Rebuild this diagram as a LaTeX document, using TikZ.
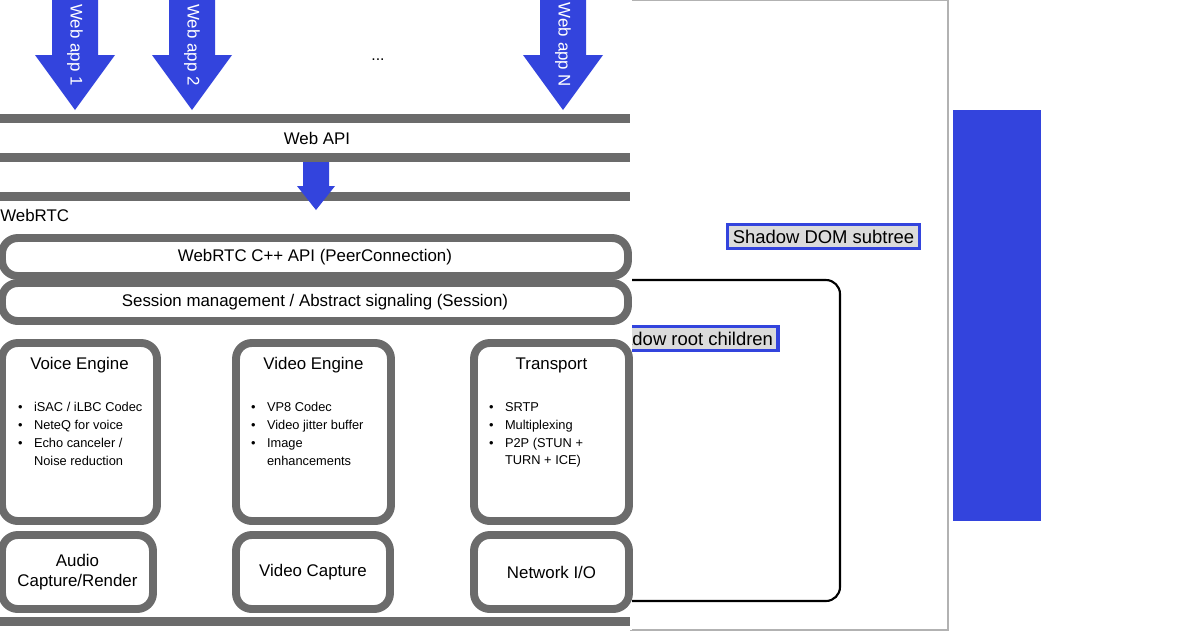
\documentclass[tikz,border=0pt]{standalone}
\usepackage{fontspec}
\setmainfont{Liberation Sans}
\usetikzlibrary{positioning}
\definecolor{barGray}{HTML}{6B6B6B}
\definecolor{appBlue}{HTML}{3344DD}
\tikzset{
  bar/.style = {fill=barGray, draw=none},
  block/.style = {draw=barGray, line width=4.5pt, rounded corners=9pt, fill=white, inner sep=0pt},
  title/.style = {font=\fontsize{9.6}{11}\selectfont, align=center},
  items/.style = {font=\fontsize{7.3}{10.2}\selectfont, align=left, anchor=north west},
  tag/.style = {draw=appBlue, line width=2pt, fill=black!14, font=\fontsize{10.5}{12}\selectfont, inner sep=3pt},
}
\newcommand{\webapp}[3]{% tip x, name, label
  \fill[appBlue] (#1-23,0) -- (#1+23,0) -- (#1+23,55) -- (#1+40,55) -- (#1,110) -- (#1-40,55) -- (#1-23,55) -- cycle;
  \node[rotate=-90, text=white, font=\fontsize{9.6}{11}\selectfont] (#2) at (#1,45) {#3};
}
\newcommand{\bl}{\makebox[9pt][l]{\textbullet}}
\begin{document}
\begin{tikzpicture}[x=0.02cm, y=-0.02cm]
\useasboundingbox (0,0) rectangle (1200,630);
\fill[white] (0,0) rectangle (1200,630);

% shadow DOM side
\draw[black!30, line width=0.6pt] (630,0) -- (948,0) -- (948,630) -- (630,630);
\fill[appBlue] (953,110) rectangle (1041,521);
\node[tag] (subtree) at (823.5,236.5) {Shadow DOM subtree};
\draw[black, line width=1.2pt, rounded corners=8pt] (560,280) rectangle (840,601);
\node[tag, anchor=east] (children) at (780,338.5) {Shadow root children};

% WebRTC stack
\fill[white] (0,0) rectangle (632,630);
\foreach \y in {114,153,192,617}
  \fill[bar] (0,\y) rectangle (630,\y+9);
\webapp{75}{app1}{Web app 1}
\webapp{192}{app2}{Web app 2}
\webapp{563}{appN}{Web app N}
\node (dots) at (378,60) {\fontsize{9}{10}\selectfont ...};
\node[title] (webapi) at (317,138) {Web API};
\fill[appBlue] (303,162) -- (329,162) -- (329,186) -- (335,186) -- (316,210) -- (297,186) -- (303,186) -- cycle;
\node[title, anchor=west, inner sep=0pt] (webrtc) at (0,215) {WebRTC};

\node[block, minimum width=626*0.02cm, minimum height=38*0.02cm] (cpp) at (315,257) {};
\node[title] at (cpp) {WebRTC C++ API (PeerConnection)};
\node[block, minimum width=626*0.02cm, minimum height=38*0.02cm] (session) at (315,302) {};
\node[title] at (session) {Session management / Abstract signaling (Session)};

\node[block, minimum width=155*0.02cm, minimum height=178*0.02cm] (voice) at (79.5,432) {};
\node[block, minimum width=155*0.02cm, minimum height=178*0.02cm] (video) at (313.5,432) {};
\node[block, minimum width=155*0.02cm, minimum height=178*0.02cm] (transport) at (551.5,432) {};
\node[title] at (79.5,365) {Voice Engine};
\node[title] at (313.5,365) {Video Engine};
\node[title] at (551.5,365) {Transport};
\node[items] at (12,396) {\bl iSAC / iLBC Codec\\ \bl NeteQ for voice\\ \bl Echo canceler /\\ \hphantom{\bl}Noise reduction};
\node[items] at (245,396) {\bl VP8 Codec\\ \bl Video jitter buffer\\ \bl Image\\ \hphantom{\bl}enhancements};
\node[items] at (483,396) {\bl SRTP\\ \bl Multiplexing\\ \bl P2P (STUN +\\ \hphantom{\bl}TURN + ICE)};

\node[block, minimum width=151*0.02cm, minimum height=74*0.02cm] (audio) at (77.5,572) {};
\node[title] at (audio) {Audio\\Capture/Render};
\node[block, minimum width=154*0.02cm, minimum height=74*0.02cm] (capture) at (313,572) {};
\node[title] at (capture) {Video Capture};
\node[block, minimum width=155*0.02cm, minimum height=74*0.02cm] (netio) at (551.5,572) {};
\node[title] at (netio) {Network I/O};
\end{tikzpicture}
\end{document}
